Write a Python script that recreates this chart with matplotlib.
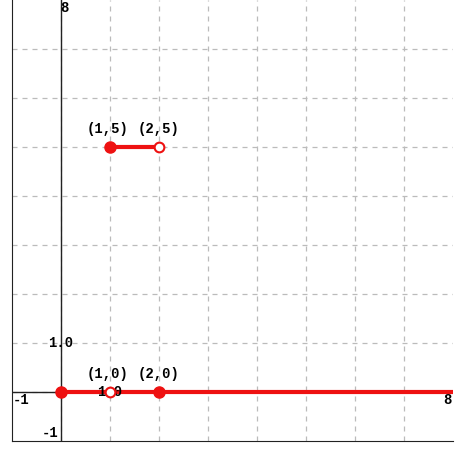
import matplotlib
matplotlib.use("Agg")
import matplotlib.pyplot as plt

seg_x = [[0, 8], [1, 2]]
seg_y = [[0, 0], [5, 5]]
filled_x = [0, 2, 1]
filled_y = [0, 0, 5]
open_x = [1, 2]
open_y = [0, 5]
labels = [("(1,5)", 1, 5), ("(2,5)", 2, 5), ("(1,0)", 1, 0), ("(2,0)", 2, 0)]

fig = plt.figure(figsize=(4.74, 4.63), dpi=100)
ax = fig.add_axes([12/474, 22/463, 441/474, 441/463])
ax.set_xlim(-1, 8); ax.set_ylim(-1, 8)
for v in range(0, 8):
    ax.axvline(v, color="#bbbbbb", ls=(0, (4, 4)), lw=0.9, zorder=0)
    ax.axhline(v, color="#bbbbbb", ls=(0, (4, 4)), lw=0.9, zorder=0)
ax.axvline(0, color="#222222", lw=1, zorder=1)
ax.axhline(0, color="#222222", lw=1, zorder=1)
for xs, ys in zip(seg_x, seg_y):
    ax.plot(xs, ys, color="#ee1111", lw=3, zorder=2, solid_capstyle="butt")
ax.plot(filled_x, filled_y, "o", color="#ee1111", ms=8, zorder=3)
ax.plot(open_x, open_y, "o", mfc="white", mec="#ee1111", mew=1.5, ms=7, zorder=4)
f = dict(family="Liberation Mono", weight="bold", fontsize=10)
for t, x, y in labels:
    ax.text(x - 0.05 if x == 1 else x, y + 0.22, t, ha="center", va="bottom", **f)
ax.text(0.0, 1.0, "1.0", ha="center", va="center", **f)
ax.text(1.0, 0, "1.0", ha="center", va="center", **f)
ax.text(-0.98, -0.03, "-1", ha="left", va="top", **f)
ax.text(7.98, -0.03, "8", ha="right", va="top", **f)
ax.text(-0.02, 7.98, "8", ha="left", va="top", **f)
ax.text(-0.05, -0.98, "-1", ha="right", va="bottom", **f)
ax.set_xticks([]); ax.set_yticks([])
for s in ["top", "right"]:
    ax.spines[s].set_visible(False)
for s in ["left", "bottom"]:
    ax.spines[s].set_color("#222222")
fig.savefig("out.png", dpi=100)
